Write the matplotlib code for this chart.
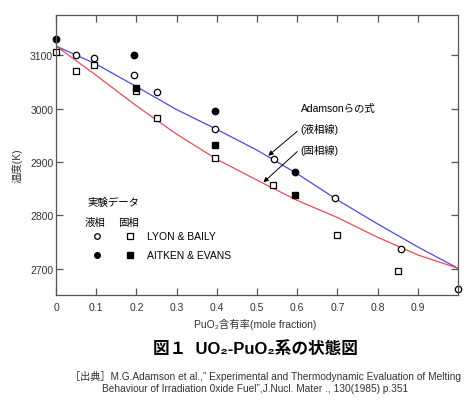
import numpy as np
import matplotlib
matplotlib.use("Agg")
import matplotlib.pyplot as plt

plt.rcParams['font.family'] = ['Liberation Sans', 'Noto Sans CJK JP', 'DejaVu Sans']

## Adamson らの式 (液相線 / 固相線)
line_x = [0.0, 0.1, 0.2, 0.3, 0.4, 0.5, 0.6, 0.7, 0.8, 0.9, 1.0]
liquidus = [3117, 3083, 3041, 2998, 2961, 2922, 2878, 2829, 2784, 2741, 2701]
solidus = [3117, 3062, 3005, 2952, 2905, 2866, 2828, 2796, 2759, 2726, 2701]

## 実験データ
# LYON & BAILY
lb_liq_x = [0.05, 0.095, 0.195, 0.25, 0.395, 0.543, 0.693, 0.857, 1.0]
lb_liq_y = [3100, 3094, 3062, 3030, 2962, 2906, 2833, 2737, 2663]
lb_sol_x = [0.0, 0.05, 0.095, 0.2, 0.25, 0.395, 0.539, 0.699, 0.85]
lb_sol_y = [3106, 3071, 3081, 3032, 2983, 2908, 2856, 2763, 2696]
# AITKEN & EVANS
ae_liq_x = [0.0, 0.195, 0.395, 0.594]
ae_liq_y = [3130, 3100, 2995, 2881]
ae_sol_x = [0.2, 0.395, 0.594]
ae_sol_y = [3038, 2932, 2838]

xticks = [0, 0.1, 0.2, 0.3, 0.4, 0.5, 0.6, 0.7, 0.8, 0.9]
xticklabels = ['0', '0.1', '0.2', '0.3', '0.4', '0.5', '0.6', '0.7', '0.8', '0.9']
yticks = [2700, 2800, 2900, 3000, 3100]

fig = plt.figure(figsize=(4.74, 4.06), dpi=100)
ax = fig.add_axes([56 / 474, 110 / 406, 402 / 474, 280 / 406])

ax.plot(line_x, liquidus, color='#4a4ae0', lw=0.9)
ax.plot(line_x, solidus, color='#ea4a58', lw=0.9)

ms = 4.6
ax.plot(lb_liq_x, lb_liq_y, 'o', ms=ms, mfc='white', mec='black', mew=0.9, clip_on=False)
ax.plot(lb_sol_x, lb_sol_y, 's', ms=ms, mfc='white', mec='black', mew=0.9, clip_on=False)
ax.plot(ae_liq_x, ae_liq_y, 'o', ms=ms, mfc='black', mec='black', clip_on=False)
ax.plot(ae_sol_x, ae_sol_y, 's', ms=ms, mfc='black', mec='black', clip_on=False)

ax.set_xlim(0, 1.0)
ax.set_ylim(2651, 3175)
ax.set_xticks(xticks)
ax.set_xticklabels(xticklabels)
ax.set_yticks(yticks)
ax.tick_params(direction='in', top=True, right=True, length=5, width=0.9,
               color='#555555', labelsize=7.5, labelcolor='#333333')
ax.tick_params(axis='x', pad=5)
ax.tick_params(axis='y', pad=2)
for s in ax.spines.values():
    s.set_color('#555555')
    s.set_linewidth(0.9)

## 凡例 (手書き)
tfs = 7.5
ax.text(0.079, 0.333, '実験データ', transform=ax.transAxes, fontsize=tfs, va='center')
ax.text(0.072, 0.26, '液相', transform=ax.transAxes, fontsize=tfs, va='center')
ax.text(0.155, 0.26, '固相', transform=ax.transAxes, fontsize=tfs, va='center')
ax.plot([0.101], [0.212], 'o', ms=4, mfc='white', mec='black', mew=0.9, transform=ax.transAxes)
ax.plot([0.184], [0.212], 's', ms=4, mfc='white', mec='black', mew=0.9, transform=ax.transAxes)
ax.plot([0.101], [0.142], 'o', ms=4, mfc='black', mec='black', transform=ax.transAxes)
ax.plot([0.184], [0.142], 's', ms=4, mfc='black', mec='black', transform=ax.transAxes)
ax.text(0.226, 0.212, 'LYON & BAILY', transform=ax.transAxes, fontsize=tfs, va='center')
ax.text(0.226, 0.142, 'AITKEN & EVANS', transform=ax.transAxes, fontsize=tfs, va='center')

## Adamson の注記
ax.text(0.609, 0.668, 'Adamsonらの式', transform=ax.transAxes, fontsize=tfs, va='center')
ax.annotate('(液相線)', xy=(0.528, 0.4975), xytext=(0.607, 0.593),
            xycoords='axes fraction', textcoords='axes fraction',
            fontsize=tfs, va='center',
            arrowprops=dict(arrowstyle='-|>', color='black', lw=0.7,
                            mutation_scale=7, shrinkA=0, shrinkB=0,
                            relpos=(0, 0.5)))
ax.annotate('(固相線)', xy=(0.516, 0.4025), xytext=(0.607, 0.521),
            xycoords='axes fraction', textcoords='axes fraction',
            fontsize=tfs, va='center',
            arrowprops=dict(arrowstyle='-|>', color='black', lw=0.7,
                            mutation_scale=7, shrinkA=0, shrinkB=0,
                            relpos=(0, 0.5)))

## 軸ラベル
fig.text(17 / 474, 1 - 166 / 406, '温度(K)', rotation=90, ha='center', va='center',
         fontsize=7.5, color='#333333')
fig.text(255 / 474, 1 - 324 / 406, 'PuO₂含有率(mole fraction)', ha='center', va='center',
         fontsize=7.5, color='#333333')

## 図タイトル・出典
fig.text(255 / 474, 1 - 349 / 406, '図１  UO₂-PuO₂系の状態図', ha='center', va='center',
         fontsize=12, fontweight='bold')
fig.text(265 / 474, 1 - 377 / 406,
         '［出典］M.G.Adamson et al.,” Experimental and Thermodynamic Evaluation of Melting',
         ha='center', va='center', fontsize=7.3, color='#333333')
fig.text(255 / 474, 1 - 389 / 406,
         'Behaviour of Irradiation 0xide Fuel”,J.Nucl. Mater ., 130(1985) p.351',
         ha='center', va='center', fontsize=7.3, color='#333333')

fig.savefig('out.png', dpi=100)
